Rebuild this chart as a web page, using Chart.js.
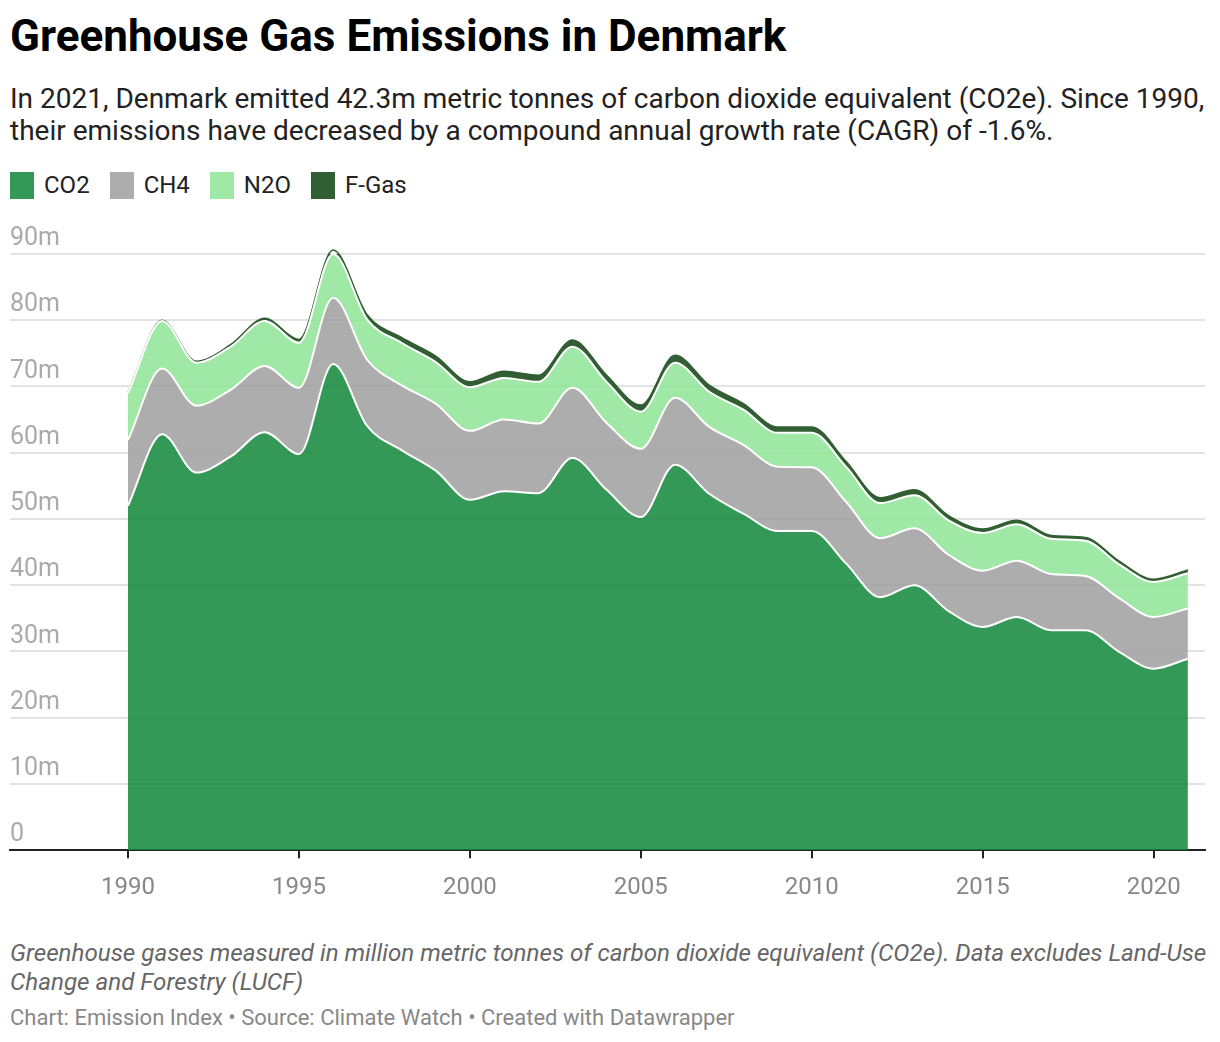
<!DOCTYPE html>
<html>
<head>
<meta charset="UTF-8">
<script src="https://cdn.jsdelivr.net/npm/chart.js@4.4.1/dist/chart.umd.min.js"></script>
<style>
    body {
        margin: 0;
        width: 1220px;
        height: 1042px;
        background: #fff;
        font-family: Roboto, sans-serif;
        position: relative;
        overflow: hidden;
    }
    .title {
        position: absolute; left: 10px; top: 12px;
        font-size: 44px; font-weight: 700; line-height: 48px; color: #000;
    }
    .subtitle {
        position: absolute; left: 10px; top: 83px;
        font-size: 28px; line-height: 32px; color: #222;
    }
    .legend {
        position: absolute; left: 10px; top: 171px;
        display: flex; gap: 20px; font-size: 24px; color: #222;
    }
    .legend span { display: flex; align-items: center; line-height: 28px; }
    .legend i { display: inline-block; width: 24px; height: 27px; margin-right: 10px; }
    .chart-box {
        position: absolute; left: 0; top: 210px; width: 1220px; height: 710px;
    }
    .notes {
        position: absolute; left: 10px; top: 939px;
        font-size: 24.2px; font-style: italic; line-height: 29px; color: #666;
    }
    .credit {
        position: absolute; left: 10px; top: 1005px;
        font-size: 22px; line-height: 26px; color: #888;
    }
</style>
</head>
<body>

<div class="title">Greenhouse Gas Emissions in Denmark</div>
<div class="subtitle">In 2021, Denmark emitted 42.3m metric tonnes of carbon dioxide equivalent (CO2e). Since 1990,<br>their emissions have decreased by a compound annual growth rate (CAGR) of -1.6%.</div>
<div class="legend" id="legend"></div>

<div class="chart-box">
    <canvas id="emissions" width="1220" height="710"></canvas>
</div>

<div class="notes">Greenhouse gases measured in million metric tonnes of carbon dioxide equivalent (CO2e). Data excludes Land-Use<br>Change and Forestry (LUCF)</div>
<div class="credit">Chart: Emission Index • Source: Climate Watch • Created with Datawrapper</div>

<script>
// values in million tonnes CO2e
const years = [1990, 1991, 1992, 1993, 1994, 1995, 1996, 1997, 1998, 1999,
               2000, 2001, 2002, 2003, 2004, 2005, 2006, 2007, 2008, 2009,
               2010, 2011, 2012, 2013, 2014, 2015, 2016, 2017, 2018, 2019,
               2020, 2021];
const co2  = [52.0, 62.8, 57.0, 59.4, 63.1, 59.8, 73.4, 64.0, 60.4, 57.3,
              52.9, 54.2, 53.9, 59.2, 54.4, 50.3, 58.2, 53.8, 50.8, 48.2,
              48.2, 43.3, 38.2, 40.0, 36.1, 33.7, 35.2, 33.2, 33.2, 29.9,
              27.4, 28.9];
const ch4  = [9.9, 9.9, 10.1, 10.1, 10.0, 10.0, 10.0, 10.0, 9.8, 10.1,
              10.4, 10.8, 10.5, 10.6, 10.1, 10.3, 10.1, 10.1, 10.4, 9.7,
              9.6, 9.3, 8.9, 8.6, 8.5, 8.5, 8.5, 8.5, 8.2, 8.1,
              7.8, 7.6];
const n2o  = [7.1, 7.2, 6.5, 6.5, 6.8, 6.8, 6.6, 6.1, 6.4, 6.3,
              6.6, 6.3, 6.3, 6.2, 6.2, 5.6, 5.3, 5.3, 5.3, 5.1,
              5.2, 5.3, 5.3, 5.0, 5.2, 5.7, 5.5, 5.3, 5.3, 5.1,
              5.3, 5.3];
const fgas = [0.1, 0.1, 0.2, 0.3, 0.4, 0.5, 0.6, 0.7, 0.8, 0.9,
              0.8, 1.0, 1.0, 1.0, 1.0, 1.0, 1.1, 1.0, 0.9, 0.9,
              0.9, 0.8, 0.8, 0.8, 0.7, 0.6, 0.6, 0.5, 0.5, 0.5,
              0.4, 0.5];

const seriesNames  = ['CO2', 'CH4', 'N2O', 'F-Gas'];
const seriesValues = [co2, ch4, n2o, fgas];
const seriesColors = ['#349856', '#adadad', '#a0e8a6', '#315e32'];
const yTicks = [0, 10, 20, 30, 40, 50, 60, 70, 80, 90];
const xTicks = [1990, 1995, 2000, 2005, 2010, 2015, 2020];

// fills are slightly see-through so the grid shows faintly; pick the base
// colour so that over white it still looks like the legend colour
const FILL_ALPHA = 0.85;
function seeThrough(hex) {
    const n = parseInt(hex.slice(1), 16);
    const ch = [n >> 16, (n >> 8) & 255, n & 255].map(function (c) {
        return Math.max(0, Math.round((c - (1 - FILL_ALPHA) * 255) / FILL_ALPHA));
    });
    return 'rgba(' + ch.join(',') + ',' + FILL_ALPHA + ')';
}

const datasets = seriesNames.map(function (name, i) {
    return {
        label: name,
        data: years.map(function (yr, j) { return { x: yr, y: seriesValues[i][j] }; }),
        backgroundColor: seeThrough(seriesColors[i]),
        borderColor: i === 3 ? seriesColors[3] : '#ffffff',
        borderWidth: i === 3 ? 1.5 : 2,
        fill: i === 0 ? 'origin' : '-1',
        pointRadius: 0,
        cubicInterpolationMode: 'monotone',
        clip: false
    };
});

// legend
var legend = document.getElementById('legend');
seriesNames.forEach(function (name, i) {
    var item = document.createElement('span');
    item.innerHTML = '<i style="background:' + seriesColors[i] + '"></i>' + name;
    legend.appendChild(item);
});

new Chart(document.getElementById('emissions'), {
    type: 'line',
    data: { datasets: datasets },
    options: {
        responsive: false,
        animation: false,
        layout: { padding: { top: 44, left: 10, right: 15, bottom: 3 } },
        plugins: {
            legend: { display: false },
            tooltip: { enabled: false }
        },
        scales: {
            x: {
                type: 'linear',
                min: 1986.55,
                max: 2021.5,
                afterBuildTicks: function (scale) {
                    scale.ticks = xTicks.map(function (v) { return { value: v }; });
                },
                grid: {
                    drawOnChartArea: false,
                    drawTicks: true,
                    tickLength: 8,
                    color: '#222',
                    lineWidth: 2
                },
                border: { display: true, color: '#222', width: 2 },
                ticks: {
                    color: '#888',
                    font: { family: 'Roboto', size: 24 },
                    padding: 15,
                    maxRotation: 0,
                    callback: function (v) { return String(v); }
                }
            },
            y: {
                stacked: true,
                min: 0,
                max: 90,
                afterBuildTicks: function (scale) {
                    scale.ticks = yTicks.map(function (v) { return { value: v }; });
                },
                grid: {
                    color: '#e3e3e3',
                    lineWidth: 2,
                    drawTicks: false
                },
                border: { display: false },
                ticks: {
                    mirror: true,
                    padding: 0,
                    labelOffset: -15,
                    color: '#aaa',
                    font: { family: 'Roboto', size: 25 },
                    callback: function (v) { return v === 0 ? '0' : v + 'm'; }
                }
            }
        }
    }
});
</script>

</body>
</html>
